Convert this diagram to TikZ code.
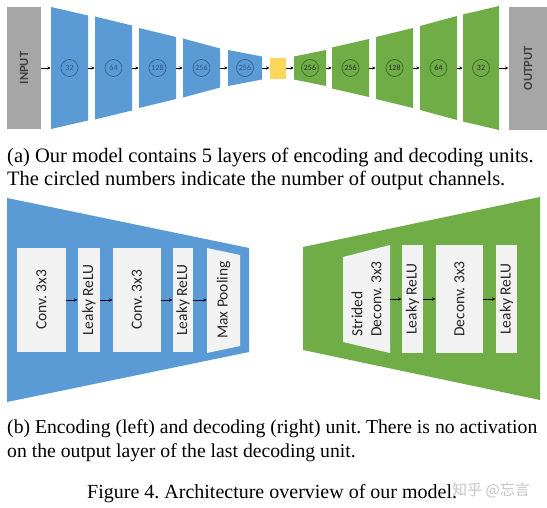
\documentclass[tikz,border=0pt]{standalone}
\usepackage{fontspec}
\setmainfont{Liberation Serif}
\newfontfamily\calib{Carlito}
\newfontfamily\cjk{Noto Sans CJK SC}
\usetikzlibrary{arrows.meta}
\frenchspacing
\definecolor{encblue}{HTML}{5B9BD5}
\definecolor{encdark}{HTML}{2A5783}
\definecolor{decgreen}{HTML}{70AD47}
\definecolor{decdark}{HTML}{335F1F}
\definecolor{iogray}{HTML}{A6A6A6}
\definecolor{iotext}{HTML}{3F3F3F}
\definecolor{midyellow}{HTML}{FFD65C}
\definecolor{boxfill}{HTML}{F2F2F2}
\definecolor{wmgray}{HTML}{C4C4C4}
% name, xl, xr, half-height left, half-height right, fill, circle style, label
\newcommand\netlayer[8]{%
  \fill[#6] (#2,{68-#4}) -- (#3,{68-#5}) -- (#3,{68+#5}) -- (#2,{68+#4}) -- cycle;
  \coordinate (#1-w) at (#2,68);
  \coordinate (#1-e) at (#3,68);
  \node[#7] (#1-c) at ({(#2+#3)/2},68) {#8};}
\tikzset{
  arr/.style={-{Stealth[length=3.2pt,width=3.2pt]}, line width=0.8pt, black, shorten >=0.5pt},
  iobox/.style={fill=iogray, draw=none, minimum width=34pt, minimum height=122pt, inner sep=0pt},
  iolbl/.style={rotate=90, text=iotext, font=\calib\bfseries\fontsize{12.5pt}{14pt}\selectfont},
  enccirc/.style={circle, draw=encdark, line width=0.6pt, minimum size=17pt, inner sep=0pt,
    text=encdark, font=\calib\fontsize{8pt}{9pt}\selectfont},
  deccirc/.style={circle, draw=decdark, line width=0.6pt, minimum size=17pt, inner sep=0pt,
    text=black!85, font=\calib\fontsize{8pt}{9pt}\selectfont},
  ubox/.style={fill=boxfill, draw=none, inner sep=0pt},
  ulbl/.style={rotate=90, text=black!85, font=\calib\fontsize{15.5pt}{19pt}\selectfont, align=left},
  captext/.style={anchor=base west, inner sep=0pt, text=black, font=\fontsize{20.5pt}{23pt}\selectfont},
  captextb/.style={captext, font=\fontsize{19.7pt}{23pt}\selectfont}
}
\begin{document}
\begin{tikzpicture}[x=1pt,y=-1pt]
\useasboundingbox (0,0) rectangle (547,508);
\fill[white] (0,0) rectangle (547,508);

% ---------- (a) top row ----------
\node[iobox] (input) at (24,68) {};
\node[iolbl] (inputlbl) at (input) {INPUT};

\netlayer{e1}{51}{88}{61}{52.5}{encblue}{enccirc}{32}
\netlayer{e2}{95}{132}{51.5}{42.5}{encblue}{enccirc}{64}
\netlayer{e3}{139}{176}{40}{31}{encblue}{enccirc}{128}
\netlayer{e4}{183}{220}{29.5}{19.5}{encblue}{enccirc}{256}
\netlayer{e5}{228}{262}{18}{11.5}{encblue}{enccirc}{256}

\node[fill=midyellow, minimum width=16pt, minimum height=21pt, inner sep=0pt] (mid) at (278,68.5) {};

\netlayer{d1}{294}{326}{11.5}{18}{decgreen}{deccirc}{256}
\netlayer{d2}{332}{369}{20.5}{29}{decgreen}{deccirc}{256}
\netlayer{d3}{376}{413}{31}{40}{decgreen}{deccirc}{128}
\netlayer{d4}{420}{457}{42}{52}{decgreen}{deccirc}{64}
\netlayer{d5}{463}{499}{53.5}{62}{decgreen}{deccirc}{32}

\node[iobox, minimum width=38pt, minimum height=123pt] (output) at (528,68.5) {};
\node[iolbl] (outputlbl) at (output) {OUTPUT};

\draw[arr] (input.east |- e1-w) -- (e1-w);
\draw[arr] (e1-e) -- (e2-w);
\draw[arr] (e2-e) -- (e3-w);
\draw[arr] (e3-e) -- (e4-w);
\draw[arr] (e4-e) -- (e5-w);
\draw[arr] (e5-e) -- (mid.west |- e5-e);
\draw[arr] (mid.east |- d1-w) -- (d1-w);
\draw[arr] (d1-e) -- (d2-w);
\draw[arr] (d2-e) -- (d3-w);
\draw[arr] (d3-e) -- (d4-w);
\draw[arr] (d4-e) -- (d5-w);
\draw[arr] (d5-e) -- (output.west |- d5-e);

% ---------- caption (a) ----------
\node[captext] (capa1) at (7,163) {(a) Our model contains 5 layers of encoding and decoding units.};
\node[captext] (capa2) at (7,186) {The circled numbers indicate the number of output channels.};

% ---------- (b) encoding unit ----------
\fill[encblue] (7,198) -- (249,248) -- (249,352) -- (7,402) -- cycle;
\node[ubox, minimum width=49pt, minimum height=104pt] (conv1) at (41.5,300) {};
\node[ulbl] (conv1lbl) at (conv1) {Conv. 3x3};
\node[ubox, minimum width=22pt, minimum height=104pt] (lrelu1) at (89,300) {};
\node[ulbl] (lrelu1lbl) at (lrelu1) {Leaky ReLU};
\node[ubox, minimum width=48pt, minimum height=104pt] (conv2) at (137,300) {};
\node[ulbl] (conv2lbl) at (conv2) {Conv. 3x3};
\node[ubox, minimum width=20pt, minimum height=104pt] (lrelu2) at (183,300) {};
\node[ulbl] (lrelu2lbl) at (lrelu2) {Leaky ReLU};
\fill[boxfill] (207,248) -- (240,255) -- (240,346) -- (207,353) -- cycle;
\coordinate (pool-w) at (207,300);
\node[ulbl] (poollbl) at (223.5,300) {Max Pooling};

\draw[arr] (conv1) -- (lrelu1);
\draw[arr] (lrelu1) -- (conv2);
\draw[arr] (conv2) -- (lrelu2);
\draw[arr] (lrelu2) -- (pool-w);

% ---------- (b) decoding unit ----------
\fill[decgreen] (303,247) -- (540,197) -- (540,400) -- (303,350) -- cycle;
\fill[boxfill] (343,257) -- (390,245) -- (390,353) -- (343,342) -- cycle;
\coordinate (sdec-e) at (390,299);
\node[ulbl] (sdeclbl) at (366.5,299) {Strided\\Deconv. 3x3};
\node[ubox, minimum width=21pt, minimum height=108pt] (lrelu3) at (412.5,299) {};
\node[ulbl] (lrelu3lbl) at (lrelu3) {Leaky ReLU};
\node[ubox, minimum width=47pt, minimum height=108pt] (deconv) at (459.5,299) {};
\node[ulbl] (deconvlbl) at (deconv) {Deconv. 3x3};
\node[ubox, minimum width=21pt, minimum height=108pt] (lrelu4) at (506.5,299) {};
\node[ulbl] (lrelu4lbl) at (lrelu4) {Leaky ReLU};

\draw[arr] (sdec-e) -- (lrelu3);
\draw[arr] (lrelu3) -- (deconv);
\draw[arr] (deconv) -- (lrelu4);

% ---------- (b) caption and figure caption ----------
\node[captextb] (capb1) at (7,433) {(b) Encoding (left) and decoding (right) unit. There is no activation};
\node[captextb] (capb2) at (7,457) {on the output layer of the last decoding unit.};
\node[captext, font=\fontsize{20pt}{23pt}\selectfont] (figcap) at (87,498) {Figure 4. Architecture overview of our model.};
\node[anchor=west, inner sep=0pt, text=wmgray, font=\cjk\fontsize{15pt}{17pt}\selectfont] (wm) at (452,490) {知乎 @忘言};
\end{tikzpicture}
\end{document}
